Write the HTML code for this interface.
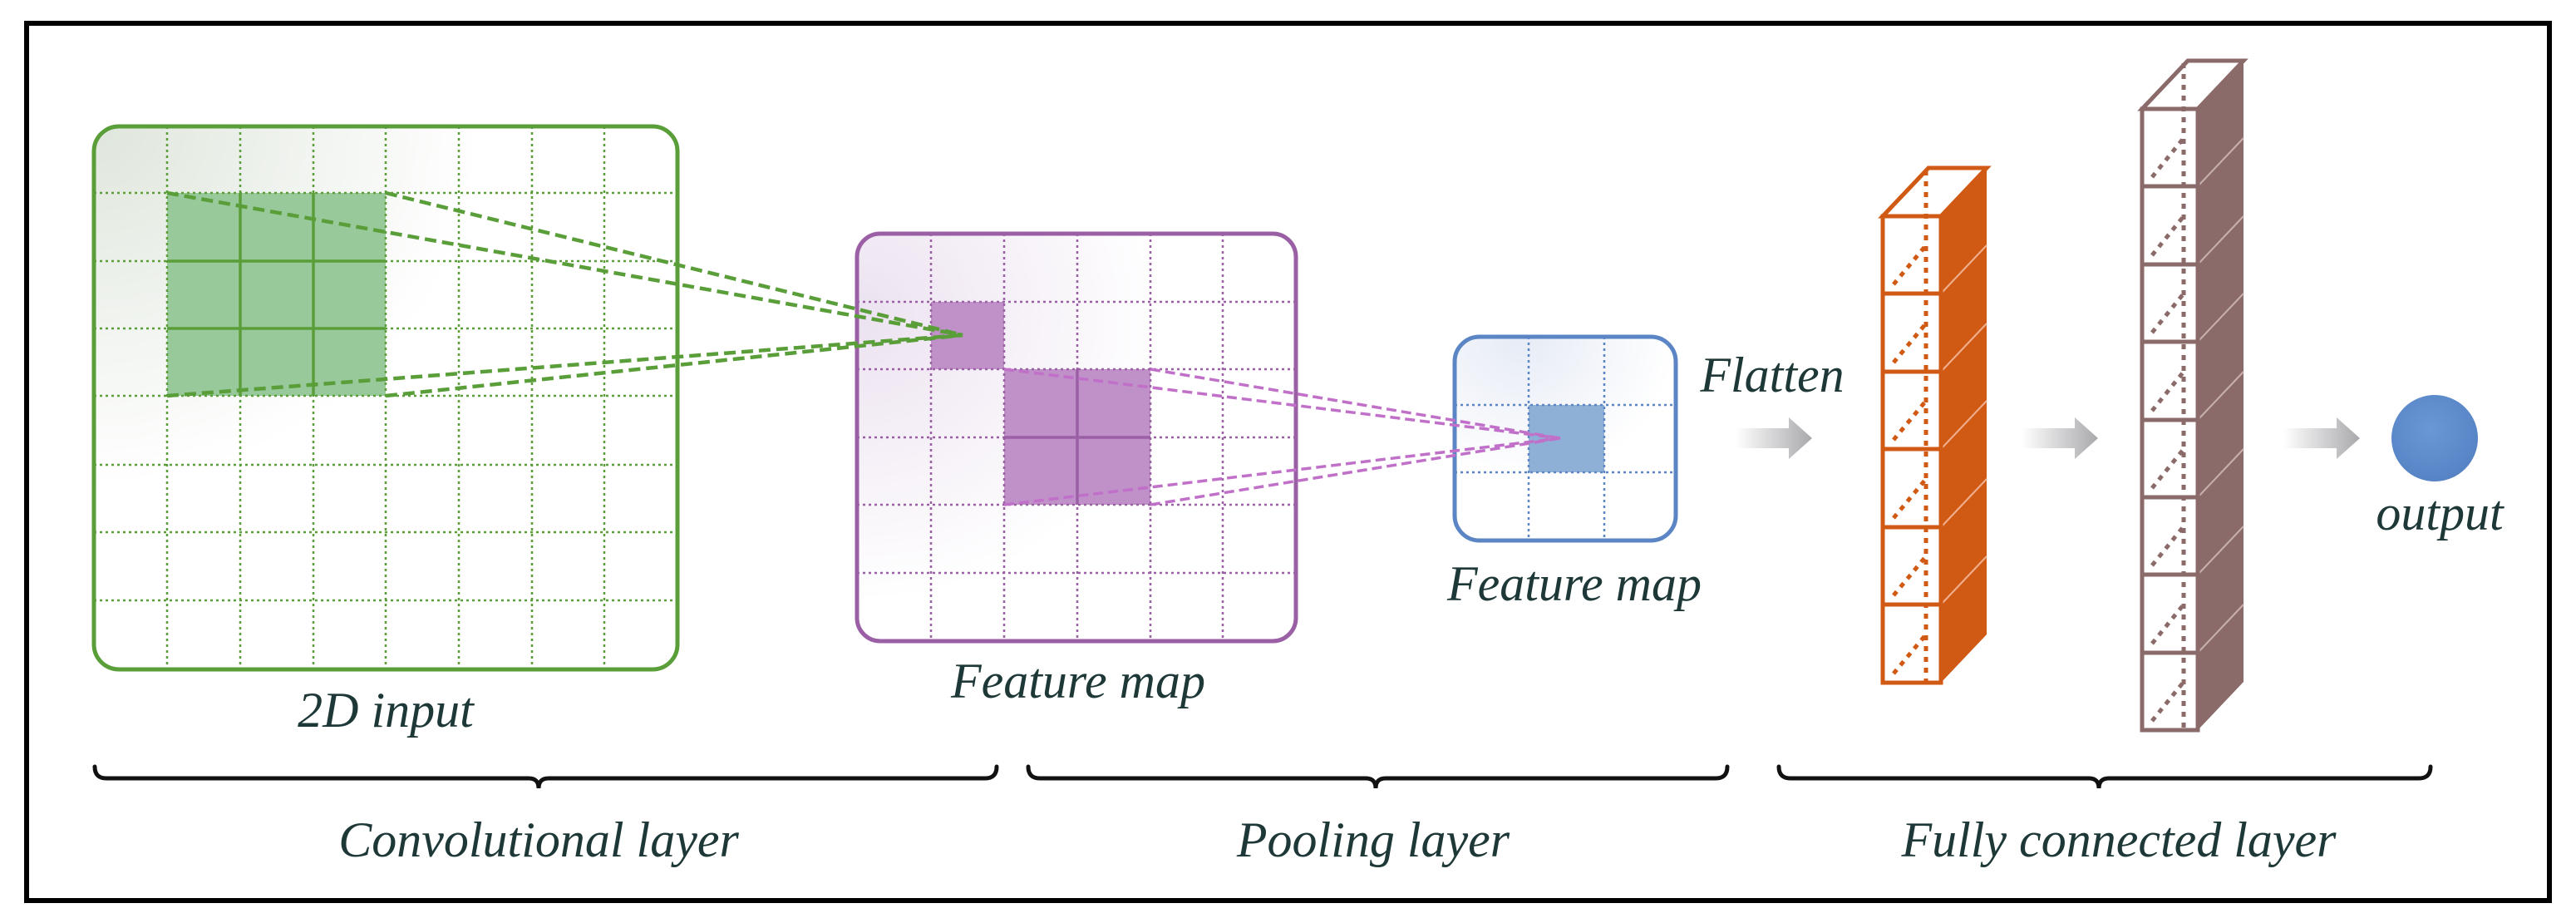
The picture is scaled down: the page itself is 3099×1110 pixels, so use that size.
<!DOCTYPE html>
<html><head><meta charset="utf-8"><style>
html,body{margin:0;padding:0;background:#fff;}
svg{display:block;}
text{font-family:"Liberation Serif","Times New Roman",serif;font-style:italic;fill:#1e3838;}
</style></head><body>
<svg width="3099" height="1110" viewBox="0 0 3099 1110" xmlns="http://www.w3.org/2000/svg">
<defs>
<radialGradient id="gg" cx="0" cy="0" r="1.1"><stop offset="0" stop-color="#dfe6dc"/><stop offset="0.6" stop-color="#ffffff"/></radialGradient>
<radialGradient id="pg" cx="0" cy="0.2" r="1"><stop offset="0" stop-color="#ece2f0"/><stop offset="0.7" stop-color="#ffffff"/></radialGradient>
<radialGradient id="bg" cx="0.3" cy="0" r="1"><stop offset="0" stop-color="#e6ebf5"/><stop offset="0.7" stop-color="#ffffff"/></radialGradient>
<linearGradient id="ag" x1="0" x2="1"><stop offset="0" stop-color="#ffffff"/><stop offset="1" stop-color="#a9a9ad"/></linearGradient>
<radialGradient id="og" cx="0.45" cy="0.4" r="0.6"><stop offset="0" stop-color="#6a98d6"/><stop offset="1" stop-color="#5683c4"/></radialGradient>
</defs>
<rect x="32" y="28" width="3035" height="1055" fill="#fff" stroke="#000" stroke-width="6"/>

<rect x="113" y="152" width="702" height="653" rx="30" fill="url(#gg)"/>
<rect x="201" y="232" width="263" height="244" fill="#98c99a"/>
<g stroke="#5a9e3a" stroke-width="2.5" stroke-dasharray="3 4">
<line x1="201" y1="152" x2="201" y2="805"/><line x1="289" y1="152" x2="289" y2="805"/><line x1="377" y1="152" x2="377" y2="805"/><line x1="464" y1="152" x2="464" y2="805"/><line x1="552" y1="152" x2="552" y2="805"/><line x1="640" y1="152" x2="640" y2="805"/><line x1="727" y1="152" x2="727" y2="805"/>
<line x1="113" y1="232" x2="815" y2="232"/><line x1="113" y1="314" x2="815" y2="314"/><line x1="113" y1="395" x2="815" y2="395"/><line x1="113" y1="476" x2="815" y2="476"/><line x1="113" y1="559" x2="815" y2="559"/><line x1="113" y1="640" x2="815" y2="640"/><line x1="113" y1="722" x2="815" y2="722"/>
</g>
<g stroke="#5a9e3a" stroke-width="3.5">
<line x1="289" y1="232" x2="289" y2="476"/><line x1="377" y1="232" x2="377" y2="476"/><line x1="201" y1="314" x2="464" y2="314"/><line x1="201" y1="395" x2="464" y2="395"/>
</g>
<rect x="113" y="152" width="702" height="653" rx="30" fill="none" stroke="#5a9e3a" stroke-width="5"/>

<rect x="1031" y="281" width="528" height="490" rx="28" fill="url(#pg)"/>
<rect x="1120" y="363" width="88" height="81" fill="#c090c8"/>
<rect x="1208" y="444" width="176" height="163" fill="#c090c8"/>
<g stroke="#9b5fa5" stroke-width="2.5" stroke-dasharray="3 4">
<line x1="1120" y1="281" x2="1120" y2="771"/><line x1="1208" y1="281" x2="1208" y2="771"/><line x1="1296" y1="281" x2="1296" y2="771"/><line x1="1384" y1="281" x2="1384" y2="771"/><line x1="1471" y1="281" x2="1471" y2="771"/>
<line x1="1031" y1="363" x2="1559" y2="363"/><line x1="1031" y1="444" x2="1559" y2="444"/><line x1="1031" y1="526" x2="1559" y2="526"/><line x1="1031" y1="607" x2="1559" y2="607"/><line x1="1031" y1="689" x2="1559" y2="689"/>
</g>
<g stroke="#9b5fa5" stroke-width="3.5"><line x1="1296" y1="444" x2="1296" y2="607"/><line x1="1208" y1="526" x2="1384" y2="526"/></g>
<rect x="1031" y="281" width="528" height="490" rx="28" fill="none" stroke="#9b5fa5" stroke-width="5"/>

<rect x="1750" y="405" width="266" height="245" rx="30" fill="url(#bg)"/>
<rect x="1839" y="487" width="91" height="81" fill="#8fb0d6"/>
<g stroke="#5b85c4" stroke-width="2.5" stroke-dasharray="3 4">
<line x1="1839" y1="405" x2="1839" y2="650"/><line x1="1930" y1="405" x2="1930" y2="650"/>
<line x1="1750" y1="487" x2="2016" y2="487"/><line x1="1750" y1="568" x2="2016" y2="568"/>
</g>
<rect x="1750" y="405" width="266" height="245" rx="30" fill="none" stroke="#5b85c4" stroke-width="5"/>

<g stroke="#5a9e3a" stroke-width="4.5" stroke-dasharray="14 7" fill="none">
<line x1="201" y1="232" x2="1158" y2="403"/><line x1="464" y1="232" x2="1158" y2="403"/>
<line x1="201" y1="476" x2="1158" y2="403"/><line x1="464" y1="476" x2="1158" y2="403"/>
</g>
<g stroke="#c070c8" stroke-width="3.5" stroke-dasharray="12 6" fill="none">
<line x1="1208" y1="444" x2="1877" y2="527"/><line x1="1384" y1="444" x2="1877" y2="527"/>
<line x1="1208" y1="607" x2="1877" y2="527"/><line x1="1384" y1="607" x2="1877" y2="527"/>
</g>

<g fill="url(#ag)">
<polygon points="2088,515 2152,515 2152,502 2180,527 2152,552 2152,539 2088,539"/>
<polygon points="2432,515 2496,515 2496,502 2524,527 2496,552 2496,539 2432,539"/>
<polygon points="2747,515 2811,515 2811,502 2839,527 2811,552 2811,539 2747,539"/>
</g>
<ellipse cx="2929" cy="527" rx="52" ry="52" fill="url(#og)"/>

<polygon points="2335,260 2390,202 2390,763 2335,821" fill="#d05a14"/>
<polygon points="2265,260 2320,202 2390,202 2335,260" fill="#fff" stroke="#d05a14" stroke-width="5"/>
<g stroke="#f0b090" stroke-width="2"><line x1="2335" y1="353" x2="2390" y2="295"/><line x1="2335" y1="447" x2="2390" y2="389"/><line x1="2335" y1="540" x2="2390" y2="482"/><line x1="2335" y1="634" x2="2390" y2="576"/><line x1="2335" y1="727" x2="2390" y2="669"/></g>
<rect x="2265" y="260" width="70" height="561" fill="#fff" stroke="#d05a14" stroke-width="5"/>
<g stroke="#d05a14" stroke-width="5"><line x1="2265" y1="353" x2="2335" y2="353"/><line x1="2265" y1="447" x2="2335" y2="447"/><line x1="2265" y1="540" x2="2335" y2="540"/><line x1="2265" y1="634" x2="2335" y2="634"/><line x1="2265" y1="727" x2="2335" y2="727"/></g>
<g stroke="#d05a14" stroke-width="5" stroke-dasharray="6 7" fill="none">
<line x1="2317" y1="205" x2="2317" y2="821"/>
<line x1="2278" y1="342" x2="2317" y2="295"/><line x1="2278" y1="436" x2="2317" y2="389"/><line x1="2278" y1="529" x2="2317" y2="482"/><line x1="2278" y1="623" x2="2317" y2="576"/><line x1="2278" y1="716" x2="2317" y2="669"/><line x1="2278" y1="810" x2="2317" y2="763"/>
</g>

<polygon points="2644,131 2699,73 2699,820 2644,878" fill="#8b6a6a"/>
<polygon points="2577,131 2632,73 2699,73 2644,131" fill="#fff" stroke="#8b6a6a" stroke-width="5"/>
<g stroke="#c8b0b0" stroke-width="2"><line x1="2644" y1="224" x2="2699" y2="166"/><line x1="2644" y1="318" x2="2699" y2="260"/><line x1="2644" y1="411" x2="2699" y2="353"/><line x1="2644" y1="505" x2="2699" y2="447"/><line x1="2644" y1="598" x2="2699" y2="540"/><line x1="2644" y1="691" x2="2699" y2="633"/><line x1="2644" y1="785" x2="2699" y2="727"/></g>
<rect x="2577" y="131" width="67" height="747" fill="#fff" stroke="#8b6a6a" stroke-width="5"/>
<g stroke="#8b6a6a" stroke-width="5"><line x1="2577" y1="224" x2="2644" y2="224"/><line x1="2577" y1="318" x2="2644" y2="318"/><line x1="2577" y1="411" x2="2644" y2="411"/><line x1="2577" y1="505" x2="2644" y2="505"/><line x1="2577" y1="598" x2="2644" y2="598"/><line x1="2577" y1="691" x2="2644" y2="691"/><line x1="2577" y1="785" x2="2644" y2="785"/></g>
<g stroke="#8b6a6a" stroke-width="5" stroke-dasharray="6 7" fill="none">
<line x1="2627" y1="76" x2="2627" y2="878"/>
<line x1="2589" y1="213" x2="2627" y2="166"/><line x1="2589" y1="307" x2="2627" y2="260"/><line x1="2589" y1="400" x2="2627" y2="353"/><line x1="2589" y1="494" x2="2627" y2="447"/><line x1="2589" y1="587" x2="2627" y2="540"/><line x1="2589" y1="680" x2="2627" y2="633"/><line x1="2589" y1="774" x2="2627" y2="727"/><line x1="2589" y1="867" x2="2627" y2="820"/>
</g>

<g stroke="#111" stroke-width="5" fill="none" stroke-linecap="round">
<path d="M114,922 q0,14 14,14 L636,936 q12,0 12,12 q0,-12 12,-12 L1185,936 q14,0 14,-14"/>
<path d="M1237,922 q0,14 14,14 L1643,936 q12,0 12,12 q0,-12 12,-12 L2064,936 q14,0 14,-14"/>
<path d="M2140,922 q0,14 14,14 L2513,936 q12,0 12,12 q0,-12 12,-12 L2910,936 q14,0 14,-14"/>
</g>

<g font-size="60" text-anchor="middle">
<text x="464" y="874">2D input</text>
<text x="1297" y="839">Feature map</text>
<text x="1894" y="722">Feature map</text>
<text x="2132" y="471">Flatten</text>
<text x="2935" y="637">output</text>
<text x="648" y="1030">Convolutional layer</text>
<text x="1652" y="1030">Pooling layer</text>
<text x="2549" y="1030">Fully connected layer</text>
</g>
</svg>
</body></html>
